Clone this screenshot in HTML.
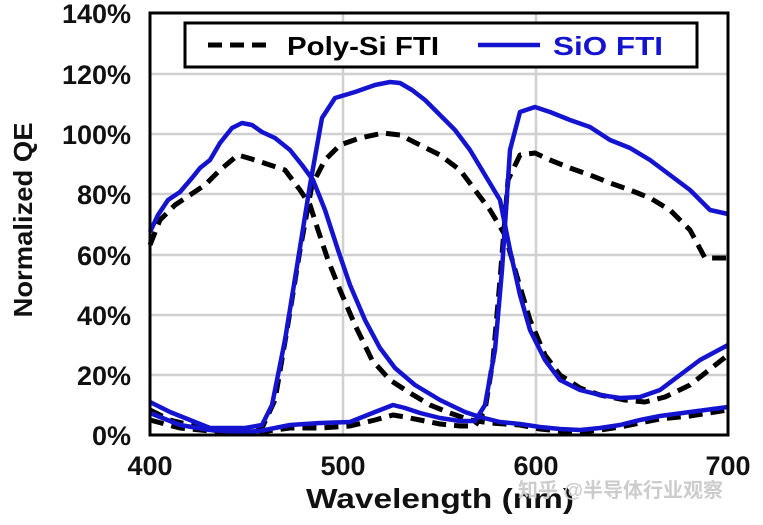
<!DOCTYPE html>
<html><head><meta charset="utf-8"><style>
body{margin:0;background:#fff;width:763px;height:520px;overflow:hidden}
text{font-family:"Liberation Sans","Noto Sans CJK SC",sans-serif;font-weight:bold}
</style></head><body>
<svg width="763" height="520" viewBox="0 0 763 520">
<g stroke="#d0d0d0" stroke-width="2.5">
<line x1="150" y1="74" x2="728" y2="74"/><line x1="150" y1="134" x2="728" y2="134"/>
<line x1="150" y1="194" x2="728" y2="194"/><line x1="150" y1="255" x2="728" y2="255"/>
<line x1="150" y1="315" x2="728" y2="315"/><line x1="150" y1="375" x2="728" y2="375"/>
<line x1="343" y1="13" x2="343" y2="435"/><line x1="536" y1="13" x2="536" y2="435"/>
</g>
<g fill="none" stroke-linejoin="round" stroke-linecap="butt">
<g stroke="#000" stroke-width="5" stroke-dasharray="14,8">
<polyline points="150,245 160,220 175,205 190,195 205,185 220,170 238,155 255,160 270,165 285,170 300,190 310,205 318,230 328,260 340,290 355,325 372,360 390,380 410,393 430,405 450,413 470,420 490,423 520,425 540,429 560,431 580,432 600,430 620,427 640,423 660,419 690,416 728,410"/>
<polyline points="150,410 170,420 190,425 210,430 230,431 250,430 262,428 275,400 287,330 300,250 312,185 325,160 340,145 360,138 383,133 400,135 420,145 440,155 460,170 475,190 490,210 505,235 518,280 530,320 545,355 560,375 580,388 600,395 625,400 645,402 665,397 690,385 728,355"/>
<polyline points="150,420 180,428 210,431 240,433 260,432 290,428 320,428 350,426 375,420 393,415 405,417 420,420 440,424 460,426 475,426 485,410 493,360 500,280 508,180 520,155 535,153 550,160 570,168 590,175 610,183 630,190 650,198 670,210 690,230 705,258 728,258"/>
</g>
<g stroke="#1414d0" stroke-width="4.5">
<polyline points="150,232 158,215 168,200 180,192 192,178 200,168 210,160 220,143 232,128 242,123 252,125 262,132 275,138 290,150 302,165 313,180 325,210 338,250 350,285 365,320 380,348 395,368 415,385 440,400 465,412 480,417 500,422 520,424 540,427 560,429 580,430 600,428 620,425 640,420 660,416 690,412 728,407"/>
<polyline points="150,402 170,412 190,420 210,428 230,428 245,428 262,425 272,405 285,340 298,260 310,185 322,118 335,98 355,92 375,85 390,82 400,83 412,90 425,100 440,115 455,130 470,150 485,175 500,200 510,250 520,295 530,330 545,360 560,380 580,390 600,395 620,398 640,397 660,390 680,375 700,360 728,345"/>
<polyline points="150,413 180,425 210,430 240,432 260,431 290,425 320,423 350,422 375,412 393,405 405,408 420,413 440,418 460,421 475,421 485,405 495,350 502,270 510,150 520,112 535,107 550,112 570,120 590,127 610,140 630,148 650,160 670,175 690,190 710,210 728,214"/>
</g>
</g>
<rect x="150" y="13" width="578" height="422" fill="none" stroke="#000" stroke-width="3"/>
<rect x="185" y="23" width="512" height="44" fill="#fff" stroke="#000" stroke-width="3"/>
<line x1="208" y1="45" x2="270" y2="45" stroke="#000" stroke-width="5" stroke-dasharray="14,8"/>
<text x="287" y="55" font-size="26" fill="#000" textLength="152" lengthAdjust="spacingAndGlyphs">Poly-Si FTI</text>
<line x1="478" y1="45" x2="540" y2="45" stroke="#1414d0" stroke-width="4.5"/>
<text x="553" y="55" font-size="26" fill="#1414d0" textLength="110" lengthAdjust="spacingAndGlyphs">SiO FTI</text>
<g font-size="27" text-anchor="end" fill="#111">
<text x="131" y="23">140%</text><text x="131" y="84">120%</text><text x="131" y="144">100%</text>
<text x="131" y="204">80%</text><text x="131" y="265">60%</text><text x="131" y="325">40%</text>
<text x="131" y="385">20%</text><text x="131" y="445">0%</text>
</g>
<g font-size="27" text-anchor="middle" fill="#111">
<text x="150" y="475">400</text><text x="343" y="475">500</text><text x="536" y="475">600</text><text x="728" y="475">700</text>
</g>
<text x="306" y="508" font-size="28" fill="#111" textLength="268" lengthAdjust="spacingAndGlyphs">Wavelength (nm)</text>
<text transform="translate(32,220) rotate(-90)" font-size="26" text-anchor="middle" fill="#111" textLength="195" lengthAdjust="spacingAndGlyphs">Normalized QE</text>
<text x="518" y="497" font-size="20" fill="#ccc" font-weight="normal">知乎 @半导体行业观察</text>
</svg>
</body></html>
